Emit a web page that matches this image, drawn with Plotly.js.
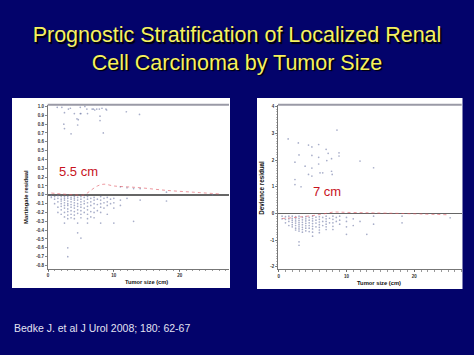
<!DOCTYPE html>
<html>
<head>
<meta charset="utf-8">
<script src="https://cdn.plot.ly/plotly-3.0.1.min.js"></script>
<style>
html,body{margin:0;padding:0;background:#03036b;}
#chart{width:474px;height:355px;}
</style>
</head>
<body>
<div id="chart"></div>
<script>
// ---- Data ----
// Left panel: Martingale residual vs tumor size (cm)
const leftX = [
  // upper (events)
  1.4,2.1,2.5,2.4,2.5,3.5,3.4,3.1,4.0,4.4,4.5,4.6,4.9,4.9,5.0,5.6,5.9,6.0,6.7,6.9,7.1,7.4,7.8,7.9,7.9,8.2,8.4,8.8,8.9,11.9,13.9,
  // lower (censored)
  0.5,0.5,1,1,1,1.5,1.5,1.5,1.5,1.5,
  2,2,2,2,2,2,2,
  2.5,2.5,2.5,2.5,2.5,2.5,2.5,2.5,2.5,
  3,3,3,3,3,3,3,3,3,3,3,
  3.5,3.5,3.5,3.5,3.5,3.5,3.5,3.5,
  4,4,4,4,4,4,4,4,4,
  4.5,4.5,4.5,4.5,4.5,4.5,4.5,4.5,
  5,5,5,5,5,5,5,5,5,
  5.5,5.5,5.5,5.5,5.5,
  6,6,6,6,6,6,6,6,
  6.5,6.5,6.5,6.5,6.5,
  7,7,7,7,7,7,
  7.5,7.5,7.5,
  8,8,8,8,8,8,
  8.5,8.5,8.5,
  9,9,9,9,
  9.5,9.5,
  10,10,10,10,
  11,11,11,12,12,13,13,14,14,18,18,25
];
const leftY = [
  0.99,0.99,0.93,0.80,0.75,0.69,0.98,0.97,0.92,0.86,0.79,0.85,0.99,0.92,0.92,1.0,0.97,0.92,0.97,0.97,0.96,0.97,0.97,0.89,0.84,0.98,0.70,0.97,0.96,0.94,0.91,
  -0.01,-0.03,-0.02,-0.05,-0.10,-0.01,-0.04,-0.08,-0.14,-0.20,
  -0.02,-0.05,-0.07,-0.10,-0.13,-0.17,-0.22,
  -0.02,-0.04,-0.06,-0.09,-0.12,-0.15,-0.20,-0.25,-0.32,
  -0.02,-0.04,-0.07,-0.10,-0.12,-0.16,-0.19,-0.23,-0.27,-0.60,-0.70,
  -0.03,-0.05,-0.08,-0.11,-0.14,-0.18,-0.22,-0.26,
  -0.02,-0.04,-0.06,-0.09,-0.12,-0.15,-0.19,-0.23,-0.27,
  -0.03,-0.06,-0.10,-0.13,-0.17,-0.21,-0.32,-0.43,
  -0.02,-0.05,-0.08,-0.11,-0.14,-0.18,-0.22,-0.26,-0.49,
  -0.03,-0.07,-0.10,-0.15,-0.20,
  -0.02,-0.05,-0.09,-0.13,-0.17,-0.22,-0.27,-0.32,
  -0.04,-0.08,-0.12,-0.19,-0.25,
  -0.03,-0.06,-0.10,-0.15,-0.20,-0.26,
  -0.05,-0.11,-0.18,
  -0.02,-0.06,-0.10,-0.14,-0.20,-0.32,
  -0.04,-0.09,-0.15,
  -0.03,-0.08,-0.12,-0.22,
  -0.05,-0.10,
  -0.04,-0.09,-0.15,-0.32,
  -0.06,-0.12,0.09,0.08,-0.04,0.07,-0.30,0.07,-0.06,0.03,-0.07,0.0
];
const leftFitX = [0.5,2,4,5.5,6.5,7.5,8.5,10,12,14,18,22,26];
const leftFitY = [0.02,0.01,0.0,0.0,0.05,0.10,0.12,0.10,0.09,0.08,0.05,0.03,0.01];

// Right panel: Deviance residual vs tumor size (cm)
const rightX = [
  // upper (events)
  1.4,2.9,4.9,5.9,7.0,7.3,8.9,8.9,8.6,2.4,4.9,5.9,7.1,7.8,3.9,4.9,5.9,6.1,6.5,7.8,7.9,12.0,2.4,2.4,4.4,4.9,3.3,3.0,4.4,14.0,
  // lower (censored)
  0.5,0.5,1,1,1,1.5,1.5,1.5,1.5,
  2,2,2,2,2,2,
  2.5,2.5,2.5,2.5,2.5,2.5,2.5,
  3,3,3,3,3,3,3,3,3,3,
  3.5,3.5,3.5,3.5,3.5,3.5,3.5,
  4,4,4,4,4,4,4,
  4.5,4.5,4.5,4.5,4.5,4.5,
  5,5,5,5,5,5,5,5,
  5.5,5.5,5.5,5.5,
  6,6,6,6,6,6,6,
  6.5,6.5,6.5,
  7,7,7,7,7,7,
  7.5,7.5,
  8,8,8,8,8,
  8.5,8.5,
  9,9,9,
  10,10,10,10,
  11,11,12,13,14,14,18.2,18.2,25.3
];
const rightY = [
  2.79,2.64,2.49,2.58,2.40,2.25,2.27,2.15,3.12,1.92,2.17,2.10,1.98,2.05,1.77,1.70,1.85,1.52,1.52,1.58,1.46,1.96,1.27,1.08,1.46,1.40,1.00,2.19,2.56,1.71,
  -0.10,-0.20,-0.12,-0.22,-0.35,-0.10,-0.20,-0.30,-0.45,
  -0.10,-0.18,-0.25,-0.33,-0.42,-0.50,
  -0.12,-0.20,-0.28,-0.36,-0.45,-0.55,-0.62,
  -0.10,-0.18,-0.26,-0.34,-0.42,-0.50,-0.58,-0.66,-1.06,-1.19,
  -0.15,-0.24,-0.33,-0.42,-0.52,-0.60,-0.70,
  -0.12,-0.20,-0.28,-0.37,-0.46,-0.55,-0.65,
  -0.15,-0.25,-0.35,-0.45,-0.55,-0.68,
  -0.10,-0.19,-0.28,-0.38,-0.48,-0.58,-0.70,-0.85,
  -0.14,-0.25,-0.36,-0.50,
  -0.12,-0.22,-0.32,-0.42,-0.52,-0.62,-0.72,
  -0.15,-0.30,-0.45,
  -0.10,-0.20,-0.30,-0.40,-0.50,-0.60,
  -0.18,-0.35,
  -0.10,-0.22,-0.35,-0.48,-0.60,
  -0.15,-0.30,
  -0.10,-0.25,-0.40,
  -0.15,-0.30,-0.50,-0.78,
  -0.20,-0.45,-0.30,-0.78,-0.40,-0.10,-0.10,-0.35,-0.16
];
const rightFitX = [0.5,2,3.5,5,6,7,8,9,10,12,14,18,25];
const rightFitY = [-0.19,-0.16,-0.12,-0.08,-0.04,0.0,0.05,0.05,0.04,0.03,0.02,0.0,-0.05];

const leftYTicks = [1.0,0.9,0.8,0.7,0.6,0.5,0.4,0.3,0.2,0.1,0.0,-0.1,-0.2,-0.3,-0.4,-0.5,-0.6,-0.7,-0.8];
const rightYTicks = [4,3,2,1,0,-1,-2];
const xTicks = [0,10,20];

// ---- Layout helpers ----
const W = 474, H = 355;
const px = v => v / W;
const py = v => 1 - v / H;

const dotColor = 'rgba(110,120,165,0.6)';
const fitStyle = {color:'rgba(225,90,100,0.7)', width:0.9, dash:'dot'};

const traces = [
  {x:leftX, y:leftY, xaxis:'x', yaxis:'y', mode:'markers', type:'scatter',
   marker:{size:1.7, color:dotColor}, hoverinfo:'skip'},
  {x:leftFitX, y:leftFitY, xaxis:'x', yaxis:'y', mode:'lines', type:'scatter',
   line:Object.assign({shape:'spline'}, fitStyle), hoverinfo:'skip'},
  {x:rightX, y:rightY, xaxis:'x2', yaxis:'y2', mode:'markers', type:'scatter',
   marker:{size:1.7, color:dotColor}, hoverinfo:'skip'},
  {x:rightFitX, y:rightFitY, xaxis:'x2', yaxis:'y2', mode:'lines', type:'scatter',
   line:Object.assign({shape:'spline'}, fitStyle), hoverinfo:'skip'}
];

const tickFont = {family:'Liberation Sans, Arial, sans-serif', size:4.5, color:'#333', weight:'bold'};
const axisCommon = {
  showgrid:false, showline:true, linecolor:'#555', linewidth:0.8,
  ticks:'outside', ticklen:2, tickwidth:0.7, tickcolor:'#555',
  tickfont:tickFont, automargin:false, fixedrange:true
};

const layout = {
  width:W, height:H,
  margin:{l:0, r:0, t:0, b:0},
  paper_bgcolor:'#03036b',
  plot_bgcolor:'#ffffff',
  showlegend:false,
  title:{
    text:'Prognostic Stratification of Localized Renal<br>Cell Carcinoma by Tumor Size',
    font:{family:'Liberation Sans, Arial, sans-serif', size:21.5, color:'#f6f25e', shadow:'1.5px 1.5px 1px #000'},
    x:0.5, xanchor:'center', y:py(42), yanchor:'middle'
  },
  xaxis:Object.assign({}, axisCommon, {
    domain:[px(47.7), px(229)], range:[-0.05, 27.5], anchor:'y',
    tickmode:'array', tickvals:xTicks, ticktext:xTicks.map(String), zeroline:false,
    minor:{dtick:1, ticks:'outside', ticklen:1.5, tickcolor:'#555', tickwidth:0.6}
  }),
  yaxis:Object.assign({}, axisCommon, {
    domain:[py(269), py(104.7)], range:[-0.84, 1.02], anchor:'x',
    tickmode:'array', tickvals:leftYTicks, ticktext:leftYTicks.map(v => v.toFixed(1)),
    zeroline:true, zerolinecolor:'#666', zerolinewidth:1.4
  }),
  xaxis2:Object.assign({}, axisCommon, {
    domain:[px(278), px(461.7)], range:[-0.1, 27.0], anchor:'y2',
    tickmode:'array', tickvals:xTicks, ticktext:xTicks.map(String), zeroline:false,
    minor:{dtick:1, ticks:'outside', ticklen:1.5, tickcolor:'#555', tickwidth:0.6}
  }),
  yaxis2:Object.assign({}, axisCommon, {
    domain:[py(269.3), py(104.7)], range:[-2.09, 4.07], anchor:'x2',
    tickmode:'array', tickvals:rightYTicks, ticktext:rightYTicks.map(String),
    zeroline:true, zerolinecolor:'#666', zerolinewidth:1.4,
    minor:{dtick:0.1, ticks:'outside', ticklen:1.2, tickcolor:'#777', tickwidth:0.5}
  }),
  shapes:[
    {type:'rect', xref:'paper', yref:'paper', x0:px(12), x1:px(230), y0:py(288), y1:py(98),
     fillcolor:'#ffffff', line:{width:0}, layer:'below'},
    {type:'rect', xref:'paper', yref:'paper', x0:px(257), x1:px(462.5), y0:py(289), y1:py(98),
     fillcolor:'#ffffff', line:{width:0}, layer:'below'},
    {type:'line', xref:'x domain', yref:'y domain', x0:0, x1:1, y0:1, y1:1,
     line:{color:'#9a9aa6', width:2}},
    {type:'line', xref:'x2 domain', yref:'y2 domain', x0:0, x1:1, y0:1, y1:1,
     line:{color:'#9a9aa6', width:2}}
  ],
  annotations:[
    {text:'5.5 cm', xref:'paper', yref:'paper', x:px(78), y:py(171), xanchor:'center', yanchor:'middle',
     showarrow:false, font:{family:'Liberation Sans, Arial, sans-serif', size:13, color:'#c8141e'}},
    {text:'7 cm', xref:'paper', yref:'paper', x:px(326.7), y:py(191.7), xanchor:'center', yanchor:'middle',
     showarrow:false, font:{family:'Liberation Sans, Arial, sans-serif', size:13, color:'#c8141e'}},
    {text:'Martingale residual', xref:'paper', yref:'paper', x:px(26), y:py(197), textangle:-90,
     xanchor:'center', yanchor:'middle', showarrow:false,
     font:{family:'Liberation Sans, Arial, sans-serif', size:5.9, color:'#111', weight:'bold'}},
    {text:'Tumor size (cm)', xref:'paper', yref:'paper', x:px(146.5), y:py(282), xanchor:'center', yanchor:'middle',
     showarrow:false, font:{family:'Liberation Sans, Arial, sans-serif', size:5.7, color:'#111', weight:'bold'}},
    {text:'Deviance residual', xref:'paper', yref:'paper', x:px(260.7), y:py(188), textangle:-90,
     xanchor:'center', yanchor:'middle', showarrow:false,
     font:{family:'Liberation Sans, Arial, sans-serif', size:6.3, color:'#111', weight:'bold'}},
    {text:'Tumor size (cm)', xref:'paper', yref:'paper', x:px(379), y:py(282.7), xanchor:'center', yanchor:'middle',
     showarrow:false, font:{family:'Liberation Sans, Arial, sans-serif', size:5.8, color:'#111', weight:'bold'}},
    {text:'Bedke J. et al J Urol 2008; 180: 62-67', xref:'paper', yref:'paper', x:px(12), y:py(328),
     xanchor:'left', yanchor:'middle', showarrow:false,
     font:{family:'Liberation Sans, Arial, sans-serif', size:10.5, color:'#e2e2f2'}}
  ]
};

Plotly.newPlot('chart', traces, layout, {displayModeBar:false, staticPlot:true});
</script>
</body>
</html>
